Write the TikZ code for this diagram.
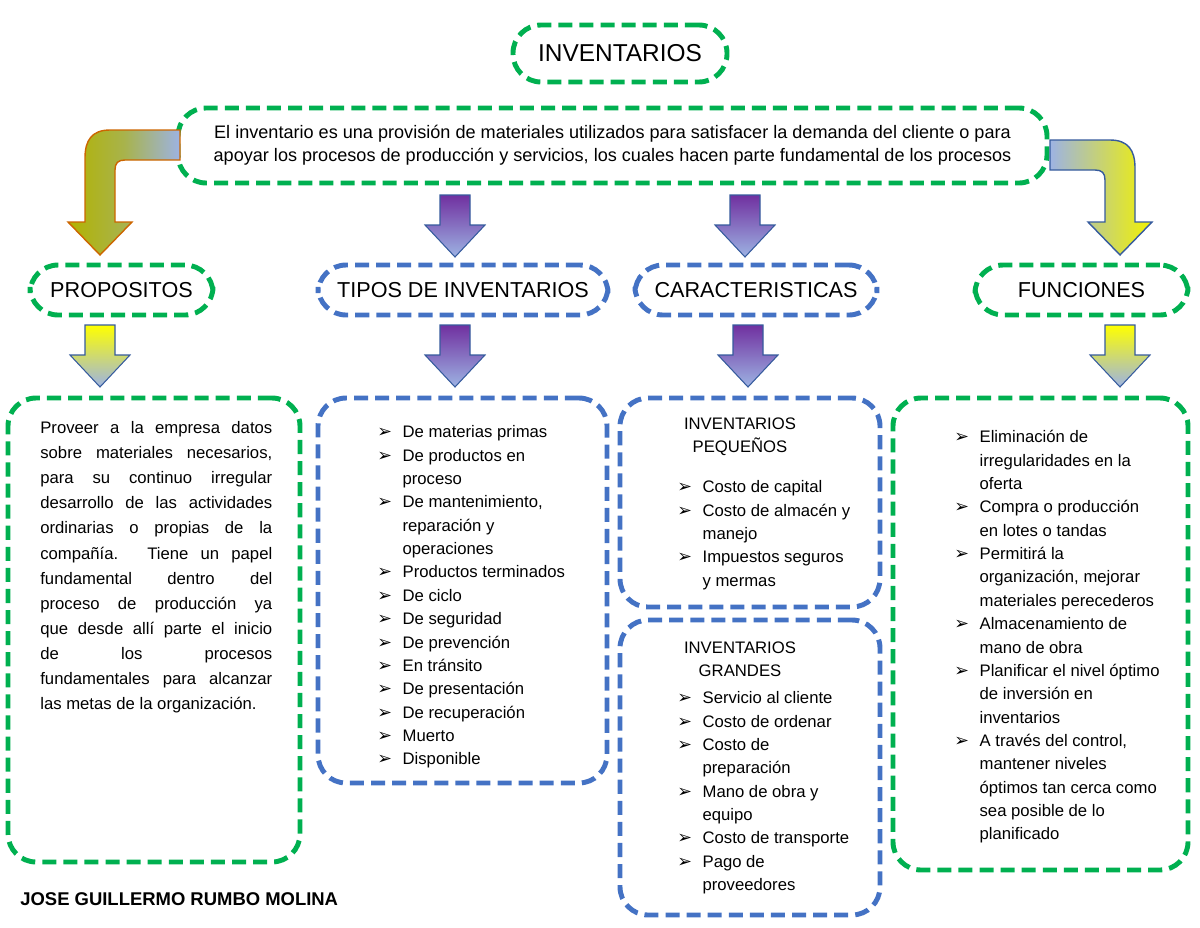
\documentclass[tikz,border=0pt]{standalone}
\usepackage{fontspec}
\setmainfont{Liberation Sans}
\newfontfamily\djv{DejaVu Sans}
\usetikzlibrary{fit}
\definecolor{gr}{HTML}{00B050}
\definecolor{bl}{HTML}{4472C4}
\definecolor{pu}{HTML}{7030A0}
\definecolor{lb}{HTML}{9DB3E3}
\definecolor{ye}{HTML}{FFFF00}
\newcommand\ar{{\djv\fontsize{10}{10}\selectfont ➢}}
\newcommand\txt{\fontsize{9.5}{13.3}\selectfont}
\newcommand\jl[1]{\makebox[4.64cm][s]{#1}\\}
\newcommand\darr[4]{\shade[top color=#3,bottom color=#4,draw=bl!80!black,line width=0.6pt]
 (#1-15,#2) -- (#1+15,#2) -- (#1+15,#2+30) -- (#1+30,#2+30) -- (#1,#2+62) -- (#1-30,#2+30) -- (#1-15,#2+30) -- cycle;}
\tikzset{
 gbox/.style={draw=gr,line width=2.8pt,dash pattern=on 8pt off 4pt,rounded corners=16pt,inner sep=0pt},
 bbox/.style={gbox,draw=bl},
 t/.style={inner sep=0pt,font=\txt},
 hd/.style={font=\fontsize{12.3}{14}\selectfont},
}
\begin{document}
\begin{tikzpicture}[x=0.02cm,y=-0.02cm]
\useasboundingbox (0,0) rectangle (1200,927);
% boxes
\node[gbox,fit={(513,25)(727,82)}] (inv) {};
\node[font=\fontsize{13.9}{16}\selectfont] at (inv) {INVENTARIOS};
\node[gbox,fit={(178,108)(1047,183)}] (def) {};
\node[inner sep=0pt,font=\fontsize{10.3}{13.3}\selectfont,align=center] at (def) {El inventario es una provisión de materiales utilizados para satisfacer la demanda del cliente o para\\apoyar los procesos de producción y servicios, los cuales hacen parte fundamental de los procesos};
\node[gbox,fit={(30,265)(213,315)}] (pro) {};
\node[hd] at (pro) {PROPOSITOS};
\node[bbox,fit={(318,265)(608,315)}] (tip) {};
\node[hd] at (tip) {TIPOS DE INVENTARIOS};
\node[bbox,fit={(635,265)(877,315)}] (car) {};
\node[hd] at (car) {CARACTERISTICAS};
\node[gbox,fit={(975,265)(1188,315)}] (fun) {};
\node[hd] at (fun) {FUNCIONES};
\node[gbox,fit={(8,398)(300,862)}] (b1) {};
\node[bbox,fit={(318,398)(607,783)}] (b2) {};
\node[bbox,fit={(620,398)(880,607)}] (b3) {};
\node[bbox,fit={(620,620)(880,915)}] (b4) {};
\node[gbox,fit={(893,398)(1188,870)}] (b5) {};
% arrows
\darr{455}{195}{pu}{lb}
\darr{745}{195}{pu}{lb}
\darr{100}{325}{ye}{lb}
\darr{455}{325}{pu}{lb}
\darr{748}{325}{pu}{lb}
\darr{1120}{325}{ye}{lb}
\shade[left color=olive!60!yellow,right color=lb,draw=orange!80!black,line width=0.8pt]
 (180,130) -- (110,130) .. controls (92,130) and (85,140) .. (85,158) -- (85,222) -- (68,222) -- (100,255) -- (132,222) -- (115,222) -- (115,170) .. controls (115,163) and (118,160) .. (125,160) -- (180,160) -- cycle;
\shade[right color=ye!90!olive,left color=lb,draw=bl!80!black,line width=0.8pt]
 (1050,140) -- (1110,140) .. controls (1128,140) and (1135,150) .. (1135,168) -- (1135,222) -- (1152,222) -- (1120,255) -- (1088,222) -- (1105,222) -- (1105,180) .. controls (1105,173) and (1102,170) .. (1095,170) -- (1050,170) -- cycle;
% texts
\node[inner sep=0pt,font=\fontsize{9.5}{14.3}\selectfont,anchor=north west,align=left] (l1) at (40,421) {\jl{Proveer a la empresa datos}\jl{sobre materiales necesarios,}\jl{para su continuo irregular}\jl{desarrollo de las actividades}\jl{ordinarias o propias de la}\jl{compañía. Tiene un papel}\jl{fundamental dentro del}\jl{proceso de producción ya}\jl{que desde allí parte el inicio}\jl{de los procesos}\jl{fundamentales para alcanzar}las metas de la organización.};
\node[t,anchor=north west] (l2) at (377,421) {\begin{tabular}{@{}l@{\hspace{6pt}}l@{}}
\ar & De materias primas\\
\ar & De productos en\\ & proceso\\
\ar & De mantenimiento,\\ & reparación y\\ & operaciones\\
\ar & Productos terminados\\
\ar & De ciclo\\
\ar & De seguridad\\
\ar & De prevención\\
\ar & En tránsito\\
\ar & De presentación\\
\ar & De recuperación\\
\ar & Muerto\\
\ar & Disponible
\end{tabular}};
\node[t,anchor=north,align=center] (l3a) at (740,417) {INVENTARIOS\\PEQUEÑOS};
\node[t,anchor=north west] (l3) at (677,476) {\begin{tabular}{@{}l@{\hspace{6pt}}l@{}}
\ar & Costo de capital\\
\ar & Costo de almacén y\\ & manejo\\
\ar & Impuestos seguros\\ & y mermas
\end{tabular}};
\node[t,anchor=north,align=center] (l4a) at (740,641) {INVENTARIOS\\GRANDES};
\node[t,anchor=north west] (l4) at (677,687) {\begin{tabular}{@{}l@{\hspace{6pt}}l@{}}
\ar & Servicio al cliente\\
\ar & Costo de ordenar\\
\ar & Costo de\\ & preparación\\
\ar & Mano de obra y\\ & equipo\\
\ar & Costo de transporte\\
\ar & Pago de\\ & proveedores
\end{tabular}};
\node[t,anchor=north west] (l5) at (954,426) {\begin{tabular}{@{}l@{\hspace{6pt}}l@{}}
\ar & Eliminación de\\ & irregularidades en la\\ & oferta\\
\ar & Compra o producción\\ & en lotes o tandas\\
\ar & Permitirá la\\ & organización, mejorar\\ & materiales perecederos\\
\ar & Almacenamiento de\\ & mano de obra\\
\ar & Planificar el nivel óptimo\\ & de inversión en\\ & inventarios\\
\ar & A través del control,\\ & mantener niveles\\ & óptimos tan cerca como\\ & sea posible de lo\\ & planificado
\end{tabular}};
\node[anchor=west,inner sep=0pt,font=\fontsize{10.5}{12}\selectfont\bfseries] (auth) at (20,899) {JOSE GUILLERMO RUMBO MOLINA};
\end{tikzpicture}
\end{document}
